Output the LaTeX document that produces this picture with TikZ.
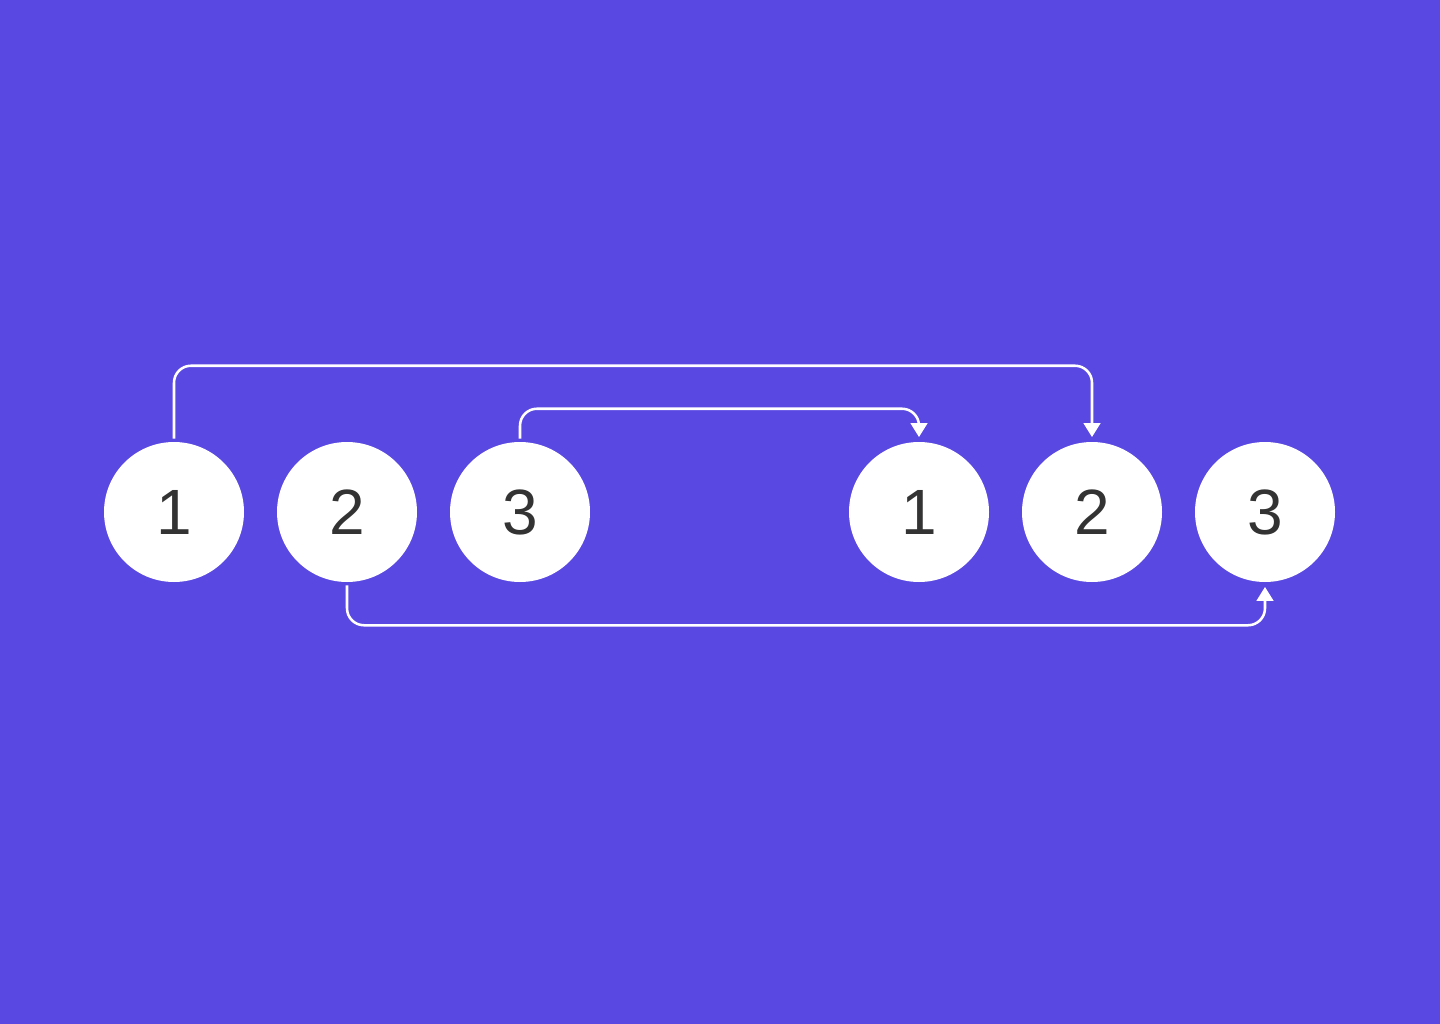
\documentclass[tikz,border=0pt]{standalone}
\usepackage{fontspec}
\setmainfont{Liberation Sans}
\usetikzlibrary{arrows.meta}
\definecolor{bgviolet}{RGB}{90,72,227}
\definecolor{digitgray}{RGB}{51,51,51}
\begin{document}
\begin{tikzpicture}[x=0.75pt,y=0.75pt,yscale=-1,xscale=1,
  ball/.style={circle,fill=white,draw=none,inner sep=0pt,minimum size=105pt,
    text=digitgray,font=\fontsize{48pt}{50pt}\selectfont},
  link/.style={draw=white,line width=1.9pt,rounded corners=12.75pt,
    -{Triangle[width=12.5pt,length=10.5pt]},shorten <=2.25pt,shorten >=3.5pt}]
%background
\fill[bgviolet] (0,0) rectangle (1440,1024);
\useasboundingbox (0,0) rectangle (1440,1024);

%Left row
\node[ball] (a1) at (174,512) {1};
\node[ball] (a2) at (347,512) {2};
\node[ball] (a3) at (520,512) {3};
%Right row
\node[ball] (b1) at (919,512) {1};
\node[ball] (b2) at (1092,512) {2};
\node[ball] (b3) at (1265,512) {3};

%Connectors
\draw[link] (a1.north) -- ++(0,-76) -| (b2.north);
\draw[link] (a3.north) -- ++(0,-33) -| (b1.north);
\draw[link] (a2.south) -- ++(0,43) -| (b3.south);

\end{tikzpicture}
\end{document}
